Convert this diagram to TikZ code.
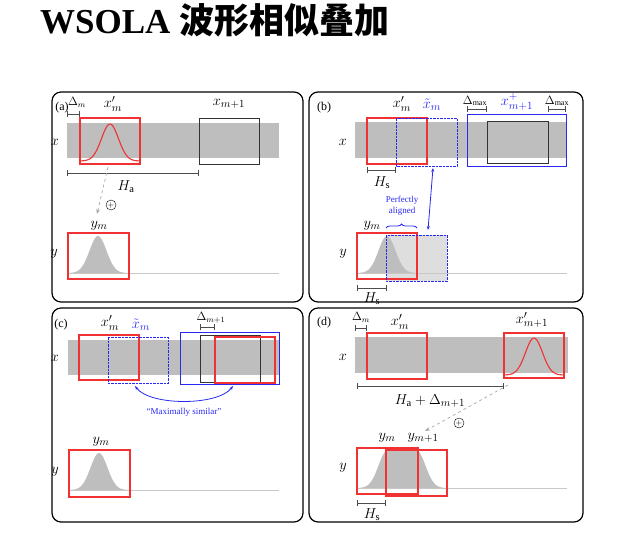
\documentclass[tikz,border=0pt]{standalone}
\usepackage{fontspec}
\setmainfont{Liberation Serif}
\newfontfamily\cjk{Noto Sans CJK SC}
\usetikzlibrary{decorations.pathreplacing,arrows.meta}
\definecolor{myred}{RGB}{240,50,50}
\definecolor{myblue}{RGB}{40,40,245}
\definecolor{myband}{RGB}{190,190,190}
\definecolor{mybase}{RGB}{200,200,200}
\definecolor{mylight}{RGB}{222,222,222}
\begin{document}
\begin{tikzpicture}[x=1pt,y=-1pt,
  panel/.style={draw=black,line width=1.2pt,rounded corners=9pt},
  band/.style={fill=myband,draw=none},
  rbox/.style={draw=myred,line width=1.1pt},
  bbox/.style={draw=myblue,line width=1pt},
  dbox/.style={draw=myblue,line width=0.9pt,dash pattern=on 2.5pt off 1pt},
  kbox/.style={draw=black!80,line width=0.9pt},
  meas/.style={draw=black!70,line width=0.7pt,|-|},
  base/.style={draw=mybase,line width=1pt},
  lab/.style={font=\fontsize{15}{17}\selectfont,inner sep=0pt},
  slab/.style={font=\fontsize{12}{14}\selectfont,inner sep=0pt},
  blab/.style={font=\fontsize{15}{17}\selectfont,text=myblue,inner sep=0pt},
  darr/.style={draw=black!35,dashed,line width=0.7pt,-{Stealth[length=5pt]}},
  oplus/.style={circle,draw,inner sep=0pt,minimum size=10pt,font=\footnotesize}]
\useasboundingbox (0,0) rectangle (618,542);
\node[anchor=west,inner sep=0pt] (title) at (40,20) {\fontsize{35}{38}\selectfont\bfseries WSOLA {\cjk 波形相似叠加}};
% panels
\draw[panel] (52,92) rectangle (303,302);
\draw[panel] (309,92) rectangle (583,302);
\draw[panel] (52,308) rectangle (303,522);
\draw[panel] (309,308) rectangle (583,522);
% ---------- (a)
\node[slab] (pa) at (62,108) {(a)};
\fill[band] (67,123) rectangle (279,158);
\draw[rbox] (80,118) rectangle (140,164);
\draw[myred,line width=1.1pt] plot[domain=0:60,samples=50] ({80+\x},{161-37*exp(-((\x-30)/12)^2)});
\draw[kbox] (199,118) rectangle (259,164);
\draw[meas] (67,114) -- (80,114);
\node[slab] (a1) at (77,102) {$\Delta_m$};
\node[lab] (a2) at (113,104) {$x'_m$};
\node[lab] (a3) at (229,104) {$x_{m+1}$};
\node[lab] (a4) at (55,142) {$x$};
\draw[meas] (67,173) -- (199,173);
\node[lab] (a5) at (126,187) {$H_{\mathrm a}$};
\coordinate (as) at (108,167); \coordinate (ae) at (97,214);
\draw[darr] (as) -- (ae);
\node[oplus] (ao) at (111,205) {$+$};
\node[lab] (a6) at (99,226) {$y_m$};
\node[lab] (a7) at (54,254) {$y$};
\draw[base] (68,273) -- (279,273);
\fill[myband] plot[domain=0:61,samples=50] ({68+\x},{273-37*exp(-((\x-30)/12)^2)}) -- cycle;
\draw[rbox] (68,233) rectangle (129,279);
% ---------- (b)
\node[slab] (pb) at (324,108) {(b)};
\fill[band] (355,122) rectangle (567,158);
\draw[rbox] (367,118) rectangle (427,164);
\draw[dbox] (396,118) rectangle (457,166);
\draw[bbox] (467,114) rectangle (566,166);
\draw[kbox] (487,121) rectangle (548,163);
\node[lab] (b1) at (402,104) {$x'_m$};
\node[blab] (b2) at (432,105) {$\tilde x_m$};
\node[slab] (b3) at (475,101) {$\Delta_{\max}$};
\draw[meas] (467,109) -- (487,109);
\node[blab] (b4) at (517,102) {$x^+_{m+1}$};
\node[slab] (b5) at (557,101) {$\Delta_{\max}$};
\draw[meas] (548,109) -- (566,109);
\node[lab] (b6) at (343,142) {$x$};
\draw[meas] (367,170) -- (396,170);
\node[lab] (b7) at (382,183) {$H_{\mathrm s}$};
\coordinate (bs) at (433,168); \coordinate (be) at (428,230);
\draw[myblue,line width=0.8pt,{Stealth[length=4pt]}-{Stealth[length=4pt]}] (bs) -- (be);
\node[text=myblue,align=center,font=\small,inner sep=0pt] (b8) at (402,206) {Perfectly\\aligned};
\draw[myblue,line width=0.8pt,decorate,decoration={brace,amplitude=4pt}] (386,228) -- (417,228);
\node[lab] (b9) at (372,226) {$y_m$};
\node[lab] (b10) at (343,254) {$y$};
\fill[mylight] (386,235) rectangle (447,281);
\draw[base] (357,273) -- (567,273);
\fill[myband] plot[domain=0:61,samples=50] ({357+\x},{273-37*exp(-((\x-30)/12)^2)}) -- cycle;
\draw[rbox] (357,233) rectangle (417,279);
\draw[dbox] (386,235) rectangle (447,281);
\draw[meas] (357,288) -- (387,288);
\node[lab] (b11) at (372,299) {$H_{\mathrm s}$};
% ---------- (c)
\node[slab] (pc) at (61,325) {(c)};
\fill[band] (68,340) rectangle (279,375);
\draw[rbox] (79,335) rectangle (139,380);
\draw[dbox] (108,337) rectangle (168,383);
\draw[bbox] (180,332) rectangle (279,384);
\draw[kbox] (200,335) rectangle (260,382);
\draw[rbox] (215,337) rectangle (275,383);
\draw[meas] (200,327) -- (215,327);
\node[slab] (c1) at (211,318) {$\Delta_{m+1}$};
\node[lab] (c2) at (110,323) {$x'_m$};
\node[blab] (c3) at (141,325) {$\tilde x_m$};
\node[lab] (c4) at (55,358) {$x$};
\coordinate (cs) at (135,386); \coordinate (ce) at (233,386);
\draw[myblue,line width=0.8pt,{Stealth[length=4pt]}-{Stealth[length=4pt]}] (cs) .. controls (150,406) and (218,406) .. (ce);
\node[text=myblue,font=\small,inner sep=0pt] (c5) at (184,412) {``Maximally similar''};
\node[lab] (c6) at (101,442) {$y_m$};
\node[lab] (c7) at (55,472) {$y$};
\draw[base] (69,490) -- (279,490);
\fill[myband] plot[domain=0:61,samples=50] ({69+\x},{490-37*exp(-((\x-30)/12)^2)}) -- cycle;
\draw[rbox] (69,450) rectangle (130,497);
% ---------- (d)
\node[slab] (pd) at (324,323) {(d)};
\fill[band] (355,337) rectangle (568,373);
\draw[rbox] (367,333) rectangle (427,379);
\draw[rbox] (504,333) rectangle (564,378);
\draw[myred,line width=1.1pt] plot[domain=0:60,samples=50] ({504+\x},{375-37*exp(-((\x-30)/12)^2)});
\draw[meas] (355,328) -- (367,328);
\node[slab] (d1) at (361,317) {$\Delta_m$};
\node[lab] (d2) at (400,322) {$x'_m$};
\node[lab] (d3) at (532,320) {$x'_{m+1}$};
\node[lab] (d4) at (343,357) {$x$};
\draw[meas] (357,386) -- (504,386);
\node[lab] (d5) at (430,401) {$H_{\mathrm a}+\Delta_{m+1}$};
\coordinate (ds) at (508,385); \coordinate (de) at (425,431);
\draw[darr] (ds) -- (de);
\node[oplus] (do) at (459,423) {$+$};
\node[lab] (d6) at (387,438) {$y_m$};
\node[lab] (d7) at (423,438) {$y_{m+1}$};
\node[lab] (d8) at (343,468) {$y$};
\draw[base] (357,488) -- (567,488);
\fill[myband] plot[domain=0:30,samples=30] ({357+\x},{488-37*exp(-((\x-30)/12)^2)}) -- plot[domain=60:90,samples=30] ({357+\x},{488-37*exp(-((\x-60)/12)^2)}) -- (447,488) -- cycle;
\draw[rbox] (357,448) rectangle (418,494);
\draw[rbox] (386,450) rectangle (447,496);
\draw[meas] (357,503) -- (386,503);
\node[lab] (d9) at (372,515) {$H_{\mathrm s}$};
\end{tikzpicture}
\end{document}
